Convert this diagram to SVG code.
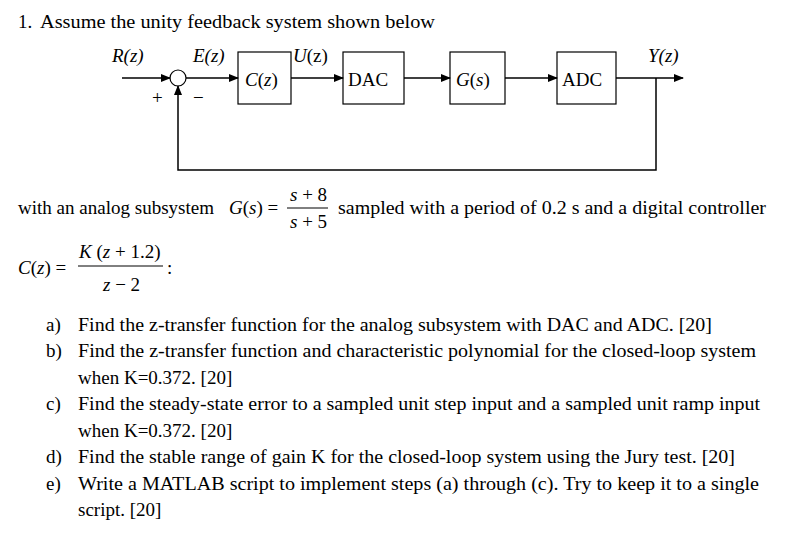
<svg xmlns="http://www.w3.org/2000/svg" width="795" height="534" viewBox="0 0 795 534">
<defs><marker id="ar" markerWidth="10" markerHeight="8" refX="9" refY="4" orient="auto" markerUnits="userSpaceOnUse"><path d="M0,0 L10,4 L0,8 Z" fill="#000"/></marker></defs>
<style>
text{font-family:"Liberation Serif","Times New Roman",serif;font-size:19px;fill:#000}
.i{font-style:italic}
.d{font-size:19px}
.b{fill:#fff;stroke:#000;stroke-width:1.2}
.l{fill:none;stroke:#000;stroke-width:1.5}
</style>
<rect width="795" height="534" fill="#fff"/>
<text x="18" y="28">1.</text><text x="40" y="28" textLength="395" lengthAdjust="spacingAndGlyphs">Assume the unity feedback system shown below</text>
<g id="sum"><circle cx="178" cy="78" r="8" class="b"/><text x="152" y="104" font-size="16">+</text><text x="193" y="104" font-size="16">−</text></g>
<g id="C"><rect x="238" y="52" width="53" height="52" class="b"/><text x="245" y="86" class="d"><tspan class="i">C</tspan>(<tspan class="i">z</tspan>)</text></g>
<g id="DAC"><rect x="343" y="52" width="61" height="52" class="b"/><text x="348" y="86" class="d">DAC</text></g>
<g id="G"><rect x="450" y="52" width="55" height="52" class="b"/><text x="456" y="86" class="d"><tspan class="i">G</tspan>(<tspan class="i">s</tspan>)</text></g>
<g id="ADC"><rect x="557" y="52" width="59" height="52" class="b"/><text x="562" y="86" class="d">ADC</text></g>
<g id="labels">
<text x="112" y="62" class="i d">R(z)</text>
<text x="193" y="62" class="i d">E(z)</text>
<text x="293" y="62" class="d"><tspan class="i">U</tspan>(z)</text>
<text x="648" y="62" class="i d">Y(z)</text>
</g>
<g id="connectors">
<line x1="122" y1="78" x2="170" y2="78" class="l" marker-end="url(#ar)"/>
<line x1="186" y1="78" x2="238" y2="78" class="l" marker-end="url(#ar)"/>
<line x1="291" y1="78" x2="343" y2="78" class="l" marker-end="url(#ar)"/>
<line x1="404" y1="78" x2="450" y2="78" class="l" marker-end="url(#ar)"/>
<line x1="505" y1="78" x2="557" y2="78" class="l" marker-end="url(#ar)"/>
<line x1="616" y1="78" x2="683" y2="78" class="l" marker-end="url(#ar)"/>
<polyline points="656,78 656,170 178,170 178,86" class="l" marker-end="url(#ar)"/>
</g>
<text x="18" y="214" textLength="196" lengthAdjust="spacingAndGlyphs">with an analog subsystem</text>
<text x="229" y="214"><tspan class="i">G</tspan>(<tspan class="i">s</tspan>) =</text>
<text x="290" y="201" class="i">s<tspan font-style="normal"> + 8</tspan></text>
<line x1="287" y1="208" x2="328" y2="208" stroke="#000" stroke-width="1"/>
<text x="290" y="228" class="i">s<tspan font-style="normal"> + 5</tspan></text>
<text x="338" y="214" textLength="428" lengthAdjust="spacingAndGlyphs">sampled with a period of 0.2 s and a digital controller</text>
<text x="18" y="274"><tspan class="i">C</tspan>(<tspan class="i">z</tspan>) =</text>
<text x="79" y="258"><tspan class="i">K</tspan> (<tspan class="i">z</tspan> + 1.2)</text>
<line x1="78" y1="266" x2="163" y2="266" stroke="#000" stroke-width="1"/>
<text x="103" y="291"><tspan class="i">z</tspan> − 2</text>
<text x="167" y="274">:</text>
<text x="46" y="331">a)</text><text x="78" y="331" textLength="634" lengthAdjust="spacingAndGlyphs">Find the z-transfer function for the analog subsystem with DAC and ADC. [20]</text>
<text x="46" y="357">b)</text><text x="78" y="357" textLength="678" lengthAdjust="spacingAndGlyphs">Find the z-transfer function and characteristic polynomial for the closed-loop system</text>
<text x="78" y="384">when K=0.372. [20]</text>
<text x="46" y="410">c)</text><text x="78" y="410" textLength="682" lengthAdjust="spacingAndGlyphs">Find the steady-state error to a sampled unit step input and a sampled unit ramp input</text>
<text x="78" y="437">when K=0.372. [20]</text>
<text x="46" y="463">d)</text><text x="78" y="463" textLength="657" lengthAdjust="spacingAndGlyphs">Find the stable range of gain K for the closed-loop system using the Jury test. [20]</text>
<text x="46" y="490">e)</text><text x="78" y="490" textLength="681" lengthAdjust="spacingAndGlyphs">Write a MATLAB script to implement steps (a) through (c). Try to keep it to a single</text>
<text x="78" y="516">script. [20]</text>
</svg>
